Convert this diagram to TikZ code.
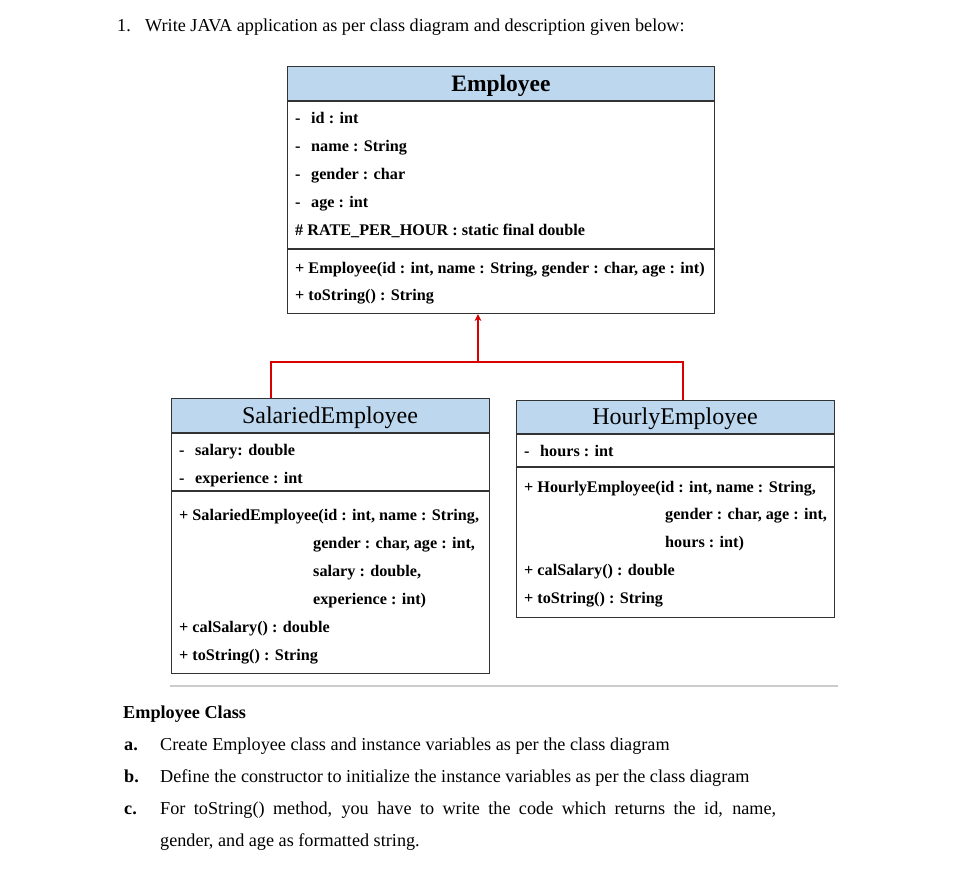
\documentclass[tikz,border=0pt]{standalone}
\usepackage{fontspec}
\setmainfont{Liberation Serif}
\usetikzlibrary{arrows.meta}
\definecolor{hblue}{HTML}{BDD7EE}
\definecolor{bord}{HTML}{333333}
\tikzset{
  box/.style={draw=bord, line width=1.1pt, rectangle, inner sep=0pt, anchor=north west},
  sep/.style={draw=bord, line width=1.1pt},
  hdr/.style={fill=hblue},
  ttl/.style={inner sep=0pt, font=\fontsize{24}{26}\selectfont},
  row/.style={inner sep=0pt, anchor=base west, font=\fontsize{16.2}{18}\selectfont\bfseries},
  txt/.style={inner sep=0pt, anchor=base west, font=\fontsize{18.2}{20}\selectfont},
  lbl/.style={inner sep=0pt, anchor=base west, font=\fontsize{18.2}{20}\selectfont\bfseries},
  inh/.style={draw=red!85!black, line width=1.8pt},
}
\newcommand{\dsh}{\makebox[16pt][l]{-}}
\begin{document}
\begin{tikzpicture}[x=1pt,y=-1pt]
\useasboundingbox (0,0) rectangle (964,878);
% heading
\node[txt] (q1) at (117,31) {1.};
\node[txt] (q1t) at (145,31) {Write JAVA application as per class diagram and description given below:};
% Employee
\fill[hdr] (287,66) rectangle (714,101);
\node[box, minimum width=427pt, minimum height=247pt] (emp) at (287,66) {};
\draw[sep] (287,101) -- (714,101);
\draw[sep] (287,249) -- (714,249);
\node[ttl, font=\fontsize{23.5}{25}\selectfont\bfseries] (empT) at (501,86) {Employee};
\node[row] (e1) at (295,123) {\dsh id : int};
\node[row] (e2) at (295,151) {\dsh name : String};
\node[row] (e3) at (295,179) {\dsh gender : char};
\node[row] (e4) at (295,207) {\dsh age : int};
\node[row] (e5) at (295,235) {\# RATE\_PER\_HOUR : static final double};
\node[row] (e6) at (295,273) {+ Employee(id : int, name : String, gender : char, age : int)};
\node[row] (e7) at (295,300) {+ toString() : String};
% SalariedEmployee
\fill[hdr] (171,398) rectangle (489,433);
\node[box, minimum width=318pt, minimum height=275pt] (sal) at (171,398) {};
\draw[sep] (171,433) -- (489,433);
\draw[sep] (171,491) -- (489,491);
\node[ttl] (salT) at (330,418) {SalariedEmployee};
\node[row] (s1) at (179,455) {\dsh salary: double};
\node[row] (s2) at (179,483) {\dsh experience : int};
\node[row] (s3) at (179,520) {+ SalariedEmployee(id : int, name : String,};
\node[row] (s4) at (313,548) {gender : char, age : int,};
\node[row] (s5) at (313,576) {salary : double,};
\node[row] (s6) at (313,604) {experience : int)};
\node[row] (s7) at (179,632) {+ calSalary() : double};
\node[row] (s8) at (179,660) {+ toString() : String};
% HourlyEmployee
\fill[hdr] (516,400) rectangle (834,434);
\node[box, minimum width=318pt, minimum height=217pt] (hou) at (516,400) {};
\draw[sep] (516,434) -- (834,434);
\draw[sep] (516,467) -- (834,467);
\node[ttl] (houT) at (675,419) {HourlyEmployee};
\node[row] (h1) at (524,456) {\dsh hours : int};
\node[row] (h2) at (524,492) {+ HourlyEmployee(id : int, name : String,};
\node[row] (h3) at (665,519) {gender : char, age : int,};
\node[row] (h4) at (665,547) {hours : int)};
\node[row] (h5) at (524,575) {+ calSalary() : double};
\node[row] (h6) at (524,603) {+ toString() : String};
% inheritance
\coordinate (j) at (478,362);
\coordinate (sa) at (271,398);
\coordinate (ha) at (683,400);
\draw[inh] (sa) |- (j) -| (ha);
\draw[inh, -{Stealth[length=7pt,width=7pt]}] (j) -- (emp.south -| j);
% separator
\draw[black!20, line width=2pt] (170,686) -- (838,686);
% description
\node[lbl] (dh) at (123,718) {Employee Class};
\node[lbl] (la) at (124,750) {a.};
\node[txt] (ta) at (160,750) {Create Employee class and instance variables as per the class diagram};
\node[lbl] (lb) at (124,782) {b.};
\node[txt] (tb) at (160,782) {Define the constructor to initialize the instance variables as per the class diagram};
\node[lbl] (lc) at (124,814) {c.};
\node[txt] (tc) at (160,814) {\makebox[616pt][s]{For toString() method, you have to write the code which returns the id, name,}};
\node[txt] (tc2) at (160,846) {gender, and age as formatted string.};
\end{tikzpicture}
\end{document}
